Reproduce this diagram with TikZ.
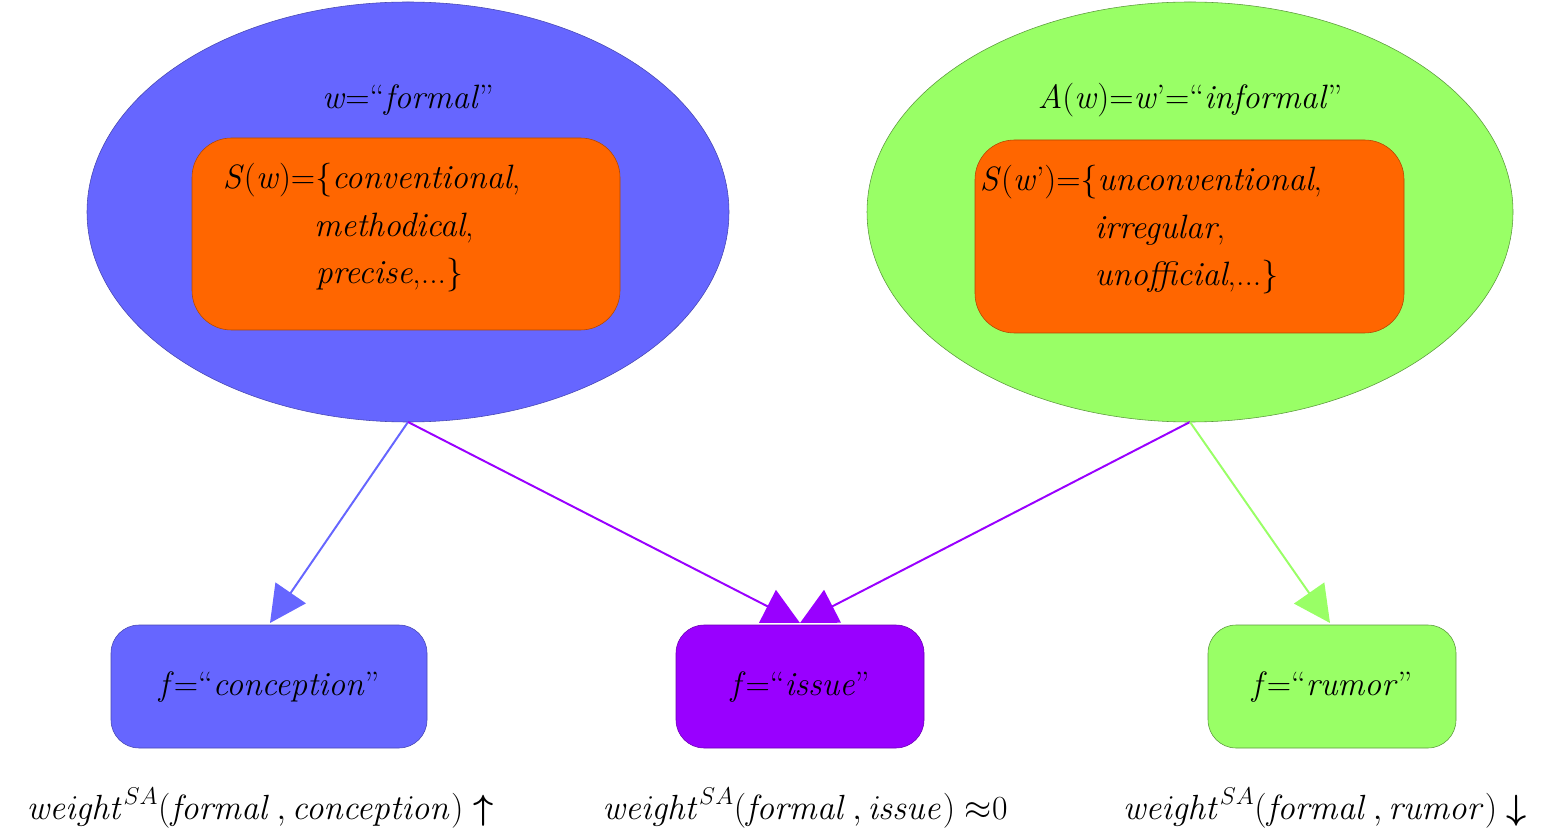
\documentclass[tikz,border=0pt]{standalone}
\usepackage{amsmath,amssymb}
\usetikzlibrary{arrows.meta}
\definecolor{cb}{HTML}{6666FF}
\definecolor{cg}{HTML}{99FF66}
\definecolor{co}{HTML}{FF6600}
\definecolor{cp}{HTML}{9900FF}
\begin{document}
\begin{tikzpicture}[x=0.025cm,y=-0.025cm,
  txt/.style={font=\fontsize{24}{34}\selectfont},
  arr/.style={draw=#1,line width=1.4pt,-{Triangle[length=26pt,width=26pt,fill=#1]}}]
\useasboundingbox (0,0) rectangle (1556,832);
\fill[cb,draw=cb!70!black] (408,212) ellipse [x radius=321, y radius=210];
\fill[cg,draw=cg!60!black] (1190,212) ellipse [x radius=323, y radius=210];
\coordinate (b) at (408,422);
\coordinate (g) at (1190,422);
\node[txt] (t1) at (408,100) {\textit{w}=“\textit{formal}”};
\node[txt] (t2) at (1190,100) {\textit{A}(\textit{w})=\textit{w}'=“\textit{informal}”};
\filldraw[fill=co,draw=co!70!black,rounded corners=28] (192,138) rectangle (620,330);
\filldraw[fill=co,draw=co!70!black,rounded corners=28] (975,140) rectangle (1404,333);
\node[txt,align=left,anchor=north west] (s1) at (218,158) {\textit{S}(\textit{w})=\{\textit{conventional},\\\hspace*{2.7em}\textit{methodical},\\\hspace*{2.75em}\textit{precise},...\}};
\node[txt,align=left,anchor=north west] (s2) at (975,160) {\textit{S}(\textit{w}')=\{\textit{unconventional},\\\hspace*{3.4em}\textit{irregular},\\\hspace*{3.4em}\textit{unofficial},...\}};
\filldraw[fill=cb,draw=cb!70!black,rounded corners=20] (111,625) rectangle (427,748);
\filldraw[fill=cp,draw=cp!70!black,rounded corners=20] (676,625) rectangle (924,748);
\filldraw[fill=cg,draw=cg!60!black,rounded corners=20] (1208,625) rectangle (1456,748);
\node[txt] (f1) at (269,687) {\textit{f}=“\textit{conception}”};
\node[txt] (f2) at (800,687) {\textit{f}=“\textit{issue}”};
\node[txt] (f3) at (1332,687) {\textit{f}=“\textit{rumor}”};
\coordinate (e1) at (270,623);
\coordinate (e2) at (800,623);
\coordinate (e3) at (1330,623);
\draw[arr=cb] (b) -- (e1);
\draw[arr=cp] (b) -- (e2);
\draw[arr=cp] (g) -- (e2);
\draw[arr=cg] (g) -- (e3);
\node[txt] (w1) at (260,808) {$\mathit{weight}^{SA}(\mathit{formal}\,,\mathit{conception})\boldsymbol{\uparrow}$};
\node[txt] (w2) at (805,808) {$\mathit{weight}^{SA}(\mathit{formal}\,,\mathit{issue})\approx$0};
\node[txt] (w3) at (1325,808) {$\mathit{weight}^{SA}(\mathit{formal}\,,\mathit{rumor})\boldsymbol{\downarrow}$};
\end{tikzpicture}
\end{document}
